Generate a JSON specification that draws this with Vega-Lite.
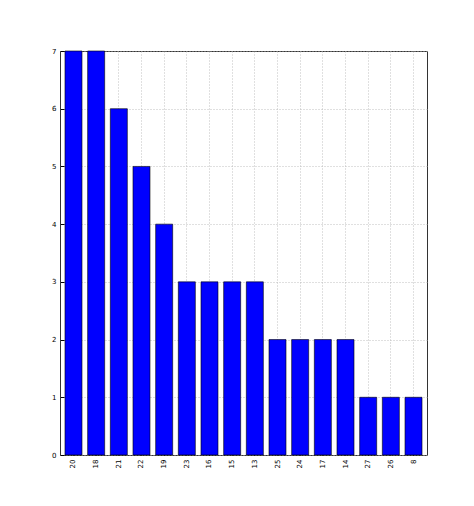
{
  "$schema": "https://vega.github.io/schema/vega-lite/v6.json",
  "autosize": {"type": "none"},
  "padding": {"left": 60, "top": 51, "right": 47, "bottom": 51},
  "width": 367,
  "height": 404,
  "background": "white",
  "data": {"values": [
    {"k": "20", "v": 7}, {"k": "18", "v": 7}, {"k": "21", "v": 6}, {"k": "22", "v": 5},
    {"k": "19", "v": 4}, {"k": "23", "v": 3}, {"k": "16", "v": 3}, {"k": "15", "v": 3},
    {"k": "13", "v": 3}, {"k": "25", "v": 2}, {"k": "24", "v": 2}, {"k": "17", "v": 2},
    {"k": "14", "v": 2}, {"k": "27", "v": 1}, {"k": "26", "v": 1}, {"k": "8", "v": 1}
  ]},
  "config": {
    "view": {"stroke": "#333", "strokeWidth": 1},
    "axis": {
      "labelFont": "DejaVu Sans", "labelFontSize": 7, "labelColor": "#000",
      "domain": false, "ticks": true, "tickColor": "#000", "tickSize": -4,
      "grid": true, "gridColor": "#b0b0b0", "gridDash": [1, 2], "gridWidth": 0.8,
      "title": null
    }
  },
  "mark": {"type": "bar", "fill": "#0000ff", "stroke": "#000", "strokeWidth": 0.6},
  "encoding": {
    "x": {
      "field": "k", "type": "nominal", "sort": null,
      "scale": {"paddingInner": 0.25, "paddingOuter": 0.22},
      "axis": {"labelAngle": -90, "labelPadding": 8, "labelBaseline": "middle", "labelAlign": "right", "bandPosition": 0.5}
    },
    "y": {
      "field": "v", "type": "quantitative",
      "scale": {"domain": [0, 7], "nice": false},
      "axis": {"values": [0, 1, 2, 3, 4, 5, 6, 7], "labelPadding": 8}
    }
  }
}
